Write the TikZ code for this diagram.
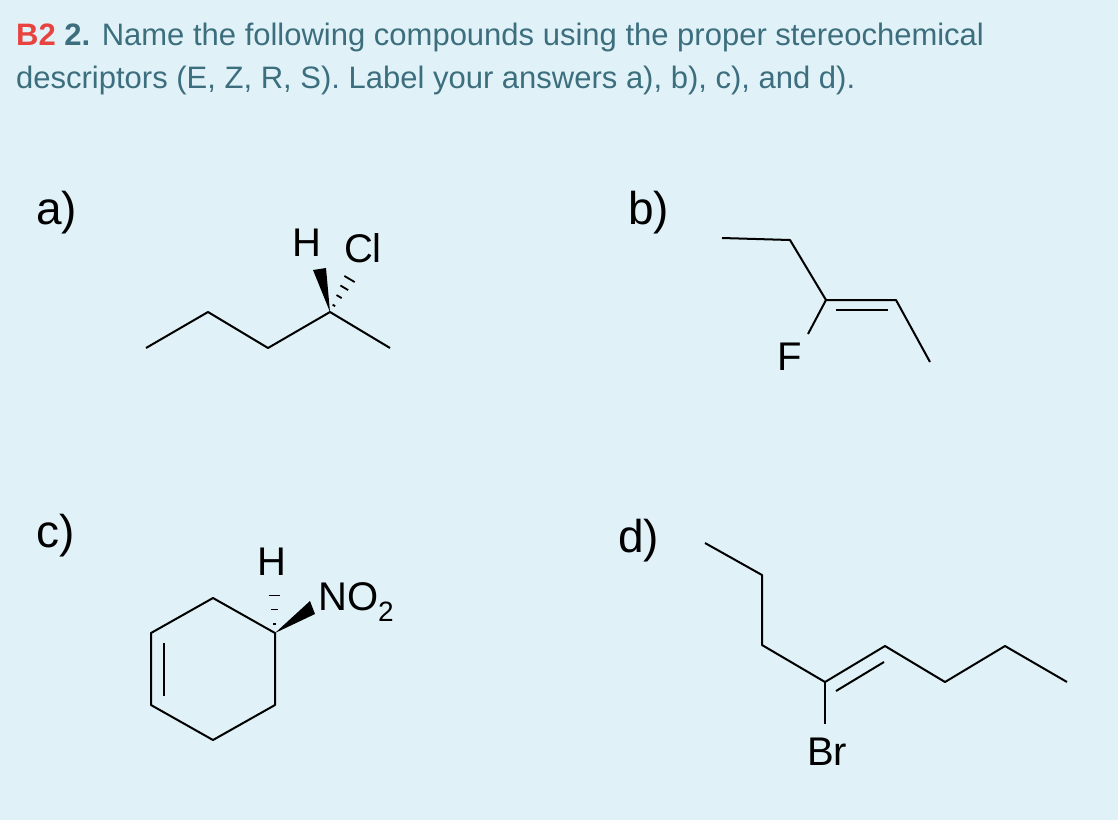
\documentclass[tikz,border=0pt]{standalone}
\usepackage{fontspec}
\setmainfont{Liberation Sans}
\usetikzlibrary{calc}
\begin{document}
\begin{tikzpicture}[x=1pt,y=-1pt,
  bond/.style={line width=2pt},
  atom/.style={inner sep=0pt,font=\fontsize{40}{42}\selectfont},
  lbl/.style={inner sep=0pt,font=\fontsize{46}{48}\selectfont,anchor=west},
  ttl/.style={inner sep=0pt,anchor=west,text=titlec,font=\fontsize{31}{34}\selectfont}]
\definecolor{bg}{HTML}{E0F2F8}
\definecolor{titlec}{HTML}{3C6E7E}
\definecolor{redc}{HTML}{E8433F}
\fill[bg] (0,0) rectangle (1118,820);
\useasboundingbox (0,0) rectangle (1118,820);
\node[ttl] (t1) at (16,37) {\textcolor{redc}{\textbf{B2}} \textbf{2.} Name the following compounds using the proper stereochemical};
\node[ttl] (t2) at (16,80) {descriptors (E, Z, R, S). Label your answers a), b), c), and d).};
\node[lbl] (la) at (36,213) {a)};
\node[lbl] (lb) at (628,213) {b)};
\node[lbl] (lc) at (36,536) {c)};
\node[lbl] (ld) at (618,541) {d)};
% a
\coordinate (a1) at (146,348); \coordinate (a2) at (208,312); \coordinate (a3) at (268,348);
\coordinate (a4) at (330,312); \coordinate (a5) at (390,348);
\draw[bond,line join=round] (a1)--(a2)--(a3)--(a4)--(a5);
\node[atom] (aH) at (307,243) {H};
\node[atom] (aCl) at (363,248) {Cl};
\fill (a4) -- (313,270) -- (326,268) -- cycle;
\foreach \t/\w in {0.15/1.5,0.35/3,0.55/4.5,0.75/6}{
  \draw[line width=1.8pt] ($(a4)!\t!(356,268)+(-\w*0.86,-\w*0.51)$) -- ($(a4)!\t!(356,268)+(\w*0.86,\w*0.51)$);}
% b
\coordinate (b1) at (722,238); \coordinate (b2) at (790,240); \coordinate (b3) at (826,300);
\coordinate (b4) at (896,300); \coordinate (b5) at (930,362);
\draw[bond,line join=round] (b1)--(b2)--(b3)--(b4)--(b5);
\draw[bond] (836,310)--(888,310);
\node[atom] (bF) at (790,357) {F};
\draw[bond] (b3)--(808,334);
% c
\coordinate (c1) at (213,598); \coordinate (c2) at (151,633); \coordinate (c3) at (151,705);
\coordinate (c4) at (213,740); \coordinate (c5) at (275,705); \coordinate (c6) at (275,633);
\draw[bond,line join=round] (c1)--(c2)--(c3)--(c4)--(c5)--(c6)--cycle;
\draw[bond] (164,643)--(164,696);
\node[atom] (cH) at (272,562) {H};
\fill (c6) -- (310,601) -- (315,614) -- cycle;
\foreach \t/\w in {0.2/1.5,0.5/3.5,0.8/5.5}{
  \draw[line width=1.8pt] ($(c6)!\t!(274,586)+(-\w,0)$) -- ($(c6)!\t!(274,586)+(\w,0)$);}
\node[atom,anchor=west] (cN) at (318,602) {NO\textsubscript{2}};
% d
\coordinate (d1) at (705,543); \coordinate (d2) at (762,575); \coordinate (d3) at (762,645);
\coordinate (d4) at (825,682); \coordinate (d5) at (885,646); \coordinate (d6) at (945,682);
\coordinate (d7) at (1005,646); \coordinate (d8) at (1067,682);
\draw[bond,line join=round] (d1)--(d2)--(d3)--(d4)--(d5)--(d6)--(d7)--(d8);
\draw[bond] (836,691)--(884,662);
\draw[bond] (d4)--(825,724);
\node[atom] (dBr) at (827,752) {Br};
\end{tikzpicture}
\end{document}
